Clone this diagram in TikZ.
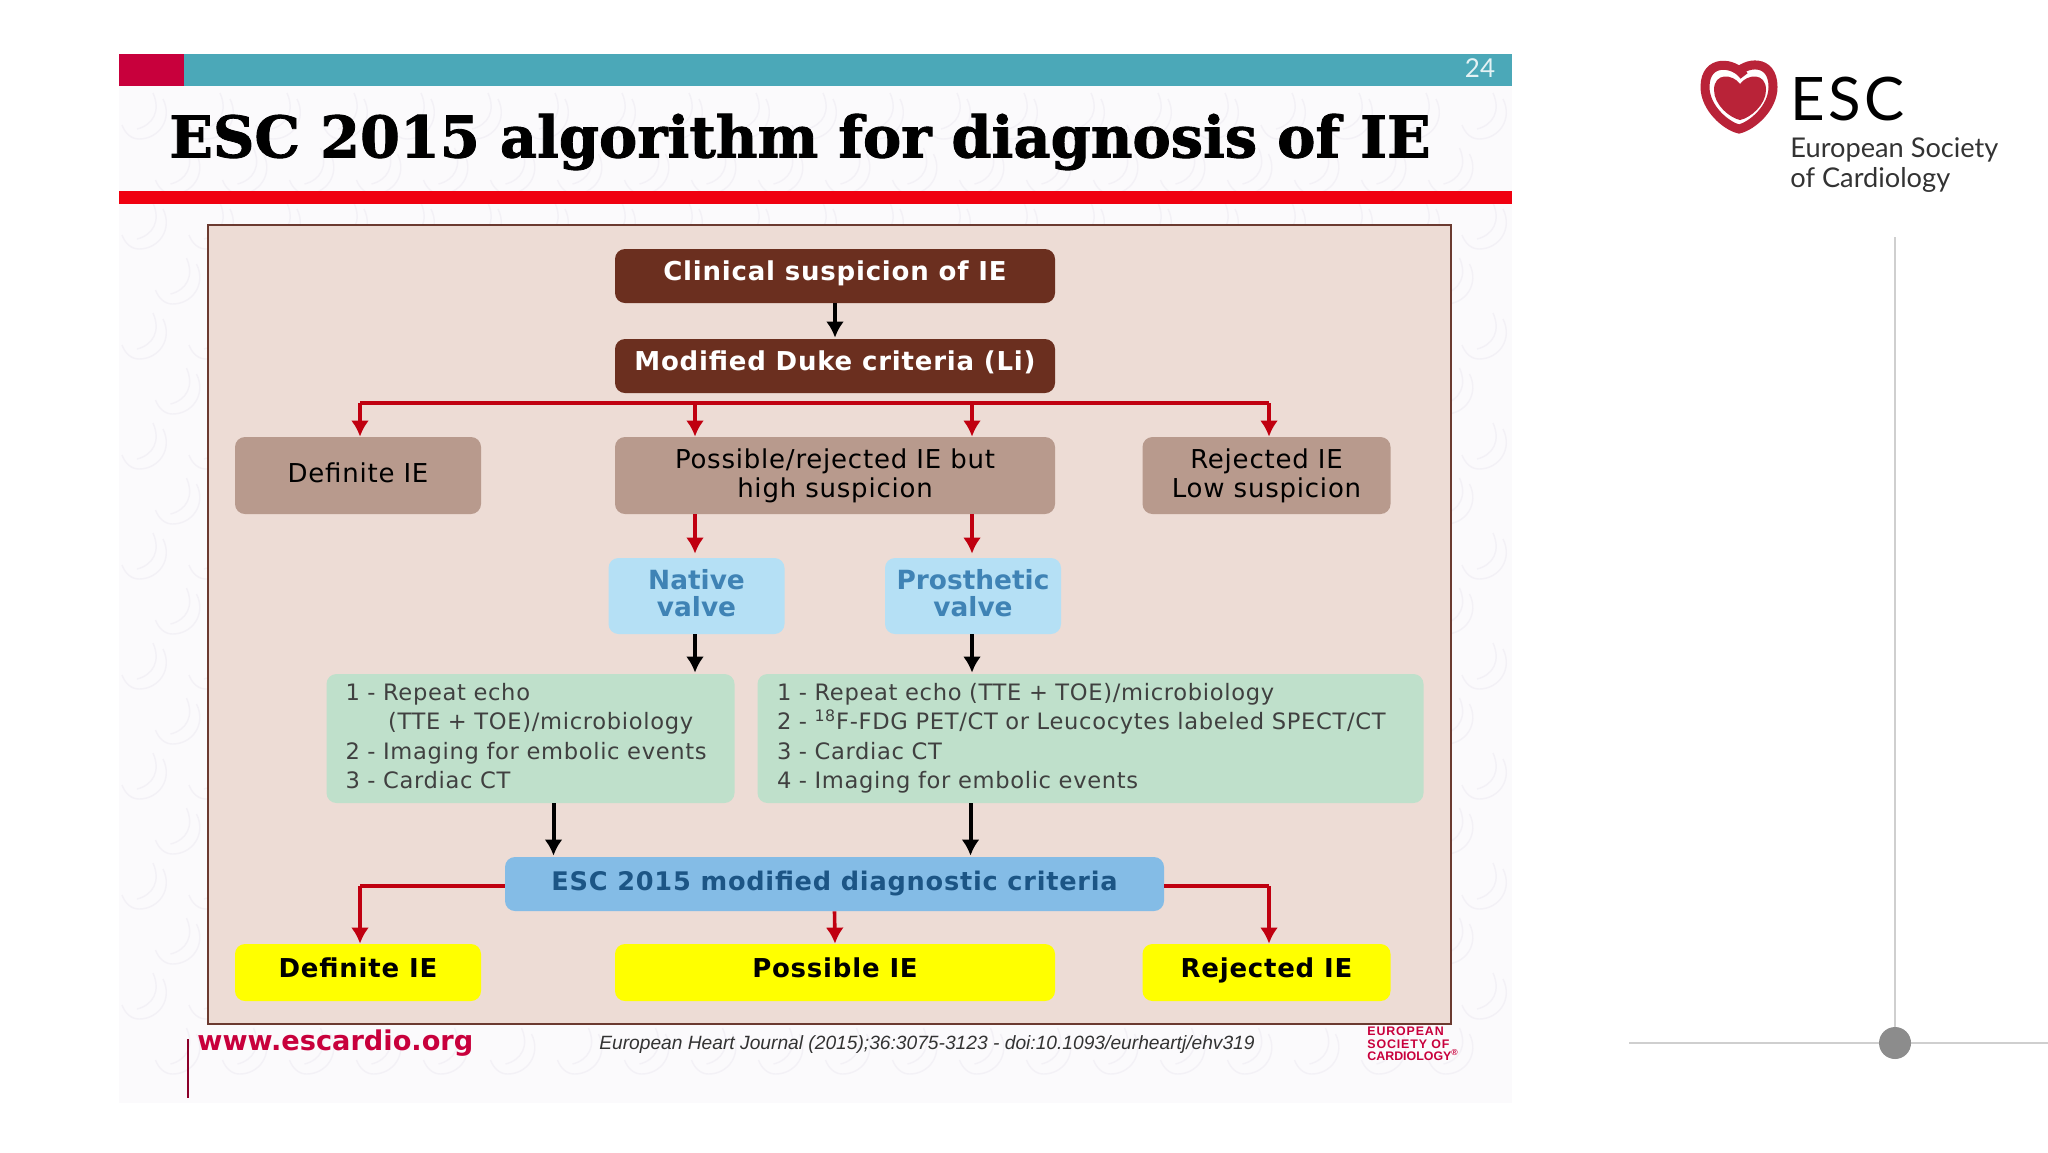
\documentclass[tikz,border=0pt]{standalone}
\usepackage{fontspec}
\setmainfont{DejaVu Sans}
\newfontfamily\titlefont[BoldFeatures={FakeBold=1.5}]{DejaVu Serif}
\newfontfamily\boxfont[LetterSpace=3]{DejaVu Sans}
\newfontfamily\footfont{Liberation Sans}
\newfontfamily\footspaced[LetterSpace=7]{Liberation Sans}
\newfontfamily\logofont{Lato}
\newfontfamily\logospaced[LetterSpace=6]{Lato}
\usetikzlibrary{arrows.meta,calc}
\definecolor{slidebg}{HTML}{FBFAFC}
\definecolor{swirl}{HTML}{F3F1F6}
\definecolor{tealbar}{HTML}{4BA8B8}
\definecolor{crimson}{HTML}{C8003C}
\definecolor{topred}{HTML}{F00010}
\definecolor{panelbg}{HTML}{EDDCD5}
\definecolor{panelline}{HTML}{6B3A30}
\definecolor{darkbrown}{HTML}{6B2F1F}
\definecolor{midbrown}{HTML}{B89A8D}
\definecolor{paleblue}{HTML}{B5E0F5}
\definecolor{valveblue}{HTML}{3F83B5}
\definecolor{palegreen}{HTML}{BFE0CB}
\definecolor{barblue}{HTML}{84BCE6}
\definecolor{navytext}{HTML}{1C5585}
\definecolor{endyellow}{RGB}{255,255,0}
\definecolor{arrowred}{HTML}{C00010}
\definecolor{heartred}{HTML}{B92338}
\definecolor{rulegrey}{HTML}{CFCFCF}
\newcommand{\lift}[1]{\rule[-#1]{0pt}{#1}}
\tikzset{
  box/.style={rounded corners=5pt,inner sep=0pt,align=center},
  topbox/.style={box,fill=darkbrown,text=white,font=\boxfont\bfseries\fontsize{13}{14.5}\selectfont,minimum width=220pt,minimum height=27pt,text height=9.5pt,text depth=5pt},
  midbox/.style={box,fill=midbrown,text=black,font=\boxfont\fontsize{13}{14.5}\selectfont,minimum height=38.5pt},
  valvebox/.style={box,fill=paleblue,text=valveblue,font=\bfseries\fontsize{13.2}{13.5}\selectfont,minimum width=88pt,minimum height=38pt},
  listbox/.style={box,fill=palegreen,text=black!75,align=left,font=\boxfont\fontsize{11.3}{14.7}\selectfont,minimum height=64.5pt},
  endbox/.style={box,fill=endyellow,text=black,font=\boxfont\bfseries\fontsize{13}{14}\selectfont,minimum height=28.5pt,text height=9.5pt,text depth=4.2pt},
  redarrow/.style={draw=arrowred,line width=1.8pt,-{Latex[length=8pt,width=9pt]}},
  blackarrow/.style={draw=black,line width=2pt,-{Latex[length=8pt,width=9pt]},shorten >=.5pt},
  redbus/.style={draw=arrowred,line width=2.2pt}
}
\begin{document}
\begin{tikzpicture}[x=.5pt,y=-.5pt]
\useasboundingbox (0,0) rectangle (2048,1152);
\fill[white] (0,0) rectangle (2048,1152);
% slide
\fill[slidebg] (119,54) rectangle (1512,1103);
\foreach \row in {0,...,17}
  \foreach \col in {0,...,20} {
    \pgfmathsetmacro{\sx}{145+67*\col+33.5*mod(\row,2)}
    \pgfmathsetmacro{\sy}{115+55*\row}
    \ifdim\sx pt<1490pt
      \draw[swirl,line width=.7pt] (\sx+18,\sy-16) .. controls (\sx+28,\sy+4) and (\sx+14,\sy+24) .. (\sx-6,\sy+24) .. controls (\sx-14,\sy+24) and (\sx-20,\sy+18) .. (\sx-23,\sy+10);
      \draw[swirl,line width=.7pt] (\sx+8,\sy-22) .. controls (\sx+16,\sy-4) and (\sx+8,\sy+10) .. (\sx-8,\sy+14);
    \fi
  }
\fill[tealbar] (119,54) rectangle (1512,86);
\fill[crimson] (119,54) rectangle (184,86);
\node (pagenum) [text=white!85!tealbar,font=\logofont\fontsize{13}{14}\selectfont] at (1480,68) {24};
\node (title) [font=\titlefont\bfseries\fontsize{28.7}{30}\selectfont] at (800,142) {ESC 2015 algorithm for diagnosis of IE};
\fill[topred] (119,191) rectangle (1512,204);
% panel
\draw[panelline,fill=panelbg,line width=.8pt] (208,225) rectangle (1451,1024);
\node (clinical) [topbox] at (835,276) {Clinical suspicion of IE};
\node (duke) [topbox] at (835,366) {Modified Duke criteria (Li)};
\node (definite) [midbox,minimum width=123pt] at (358,475.5) {Definite IE\lift{2.6pt}};
\node (highsusp) [midbox,minimum width=220pt] at (835,475.5) {Possible/rejected IE but\\high suspicion};
\node (lowsusp) [midbox,minimum width=124pt] at (1266.5,475.5) {Rejected IE\\Low suspicion};
\node (native) [valvebox] at (696.5,596) {Native\\valve\lift{3.2pt}};
\node (prosth) [valvebox] at (973,596) {Prosthetic\\valve\lift{3.2pt}};
\node (listnative) [listbox,minimum width=204pt,text width=185pt] at (530.5,738.5) {\strut 1 - Repeat echo\\\hphantom{1 - }\hspace{2.5pt}(TTE + TOE)/microbiology\\2 - Imaging for embolic events\\3 - Cardiac CT\strut};
\node (listprosth) [listbox,minimum width=333pt,text width=313.5pt] at (1090.5,738.5) {\strut 1 - Repeat echo (TTE + TOE)/microbiology\\2 - \textsuperscript{18}F-FDG PET/CT or Leucocytes labeled SPECT/CT\\3 - Cardiac CT\\4 - Imaging for embolic events\strut};
\node (criteria) [box,fill=barblue,text=navytext,font=\boxfont\bfseries\fontsize{12.8}{14}\selectfont,minimum width=329.5pt,minimum height=27pt] at (834.5,884) {ESC 2015 modified diagnostic criteria};
\node (enddef) [endbox,minimum width=123pt] at (358,972.5) {Definite IE};
\node (endpos) [endbox,minimum width=220pt] at (835,972.5) {Possible IE};
\node (endrej) [endbox,minimum width=124pt] at (1266.5,972.5) {Rejected IE};
% connectors
\coordinate (busa) at (360,403);
\coordinate (busb) at (695,403);
\coordinate (busc) at (972,403);
\coordinate (busd) at (1269,403);
\draw[blackarrow] (clinical) -- (duke);
\draw[redbus] (busa) -- (busd);
\draw[redarrow] (busa) -- (busa |- definite.north);
\draw[redarrow] (busb) -- (busb |- highsusp.north);
\draw[redarrow] (busc) -- (busc |- highsusp.north);
\draw[redarrow] (busd) -- (busd |- lowsusp.north);
\draw[redarrow,shorten >=2pt] (busb |- highsusp.south) -- (busb |- native.north);
\draw[redarrow,shorten >=2pt] (busc |- highsusp.south) -- (busc |- prosth.north);
\draw[blackarrow] (busb |- native.south) -- (busb |- listnative.north);
\draw[blackarrow] (busc |- prosth.south) -- (busc |- listprosth.north);
\draw[blackarrow] ([xshift=11.5pt]listnative.south) -- ([xshift=11.5pt]listnative.south |- criteria.north);
\draw[blackarrow] ([xshift=-60pt]listprosth.south) -- ([xshift=-60pt]listprosth.south |- criteria.north);
\coordinate (turna) at ([yshift=-1pt]criteria.west -| busa);
\coordinate (turnd) at ([yshift=-1pt]criteria.east -| busd);
\draw[redbus] ([yshift=-1pt]criteria.west) -- (turna);
\draw[redbus] ([yshift=-1pt]criteria.east) -- (turnd);
\draw[redarrow] (turna) -- (turna |- enddef.north);
\draw[redarrow] (turnd) -- (turnd |- endrej.north);
\draw[redarrow] (criteria.south) -- (endpos.north);
% footer
\draw[crimson!70!black,line width=1pt] (188,1039) -- (188,1098);
\node (website) [anchor=west,inner sep=0pt,text=crimson,font=\bfseries\fontsize{13.6}{16}\selectfont] at (197,1043.5) {www.escardio.org};
\node (journal) [inner sep=0pt,font=\footfont\itshape\fontsize{9.6}{12}\selectfont,text=black!80] at (927,1045) {European Heart Journal (2015);36:3075-3123 - doi:10.1093/eurheartj/ehv319};
\node (esclabel) [anchor=west,inner sep=0pt,align=left,text=crimson,font=\footspaced\bfseries\fontsize{6.2}{6.2}\selectfont] at (1367,1044) {EUROPEAN\\SOCIETY OF\\{\footfont CARDIOLOGY\textsuperscript{®}}};
% logo and rules
\draw[heartred,line width=4.5pt] (1744,76) .. controls (1735,62) and (1705,58) .. (1705,87) .. controls (1705,108) and (1726,126) .. (1739,129) .. controls (1752,126) and (1773,108) .. (1773,87) .. controls (1773,58) and (1745,62) .. (1736,74);
\fill[heartred] (1740,84) .. controls (1733,74) and (1714,72) .. (1714,90) .. controls (1714,105) and (1730,118) .. (1740,120) .. controls (1750,118) and (1766,105) .. (1766,90) .. controls (1766,72) and (1747,74) .. (1740,84) -- cycle;
\node (logoname) [anchor=base west,inner sep=0pt,font=\logospaced\fontsize{30}{30}\selectfont] at (1790,120) {ESC};
\node (logotext) [anchor=north west,inner sep=0pt,align=left,text=black!80,font=\logofont\fontsize{13.6}{15}\selectfont] at (1790,137) {European Society\\of Cardiology};
\draw[rulegrey,line width=.8pt] (1629,1043) -- (2048,1043);
\draw[rulegrey,line width=.8pt] (1895,237) -- (1895,1043);
\fill[black!45] (1895,1043) circle (8pt);
\end{tikzpicture}
\end{document}
